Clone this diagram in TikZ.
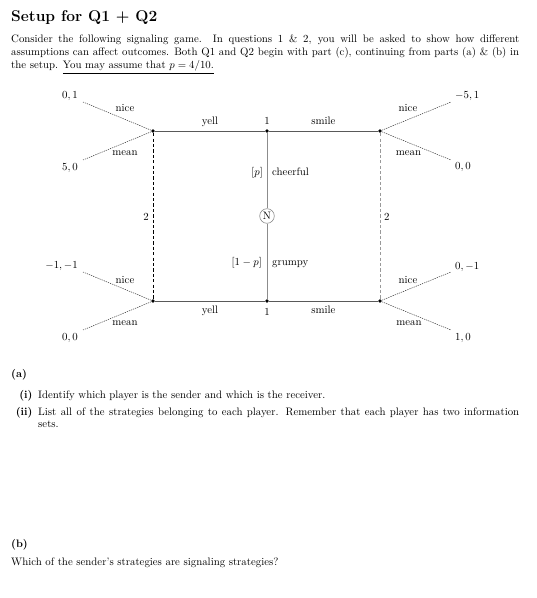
\documentclass[tikz,border=0pt]{standalone}
\usepackage{amsmath}
\begin{document}
\begin{tikzpicture}[x=0.9247pt,y=-0.9247pt,
  dot/.style={circle,fill=black,inner sep=0pt,minimum size=3.6pt},
  lab/.style={inner sep=0pt},
  move/.style={draw=black!65, line width=0.55pt},
  chance/.style={draw=black!45, line width=0.5pt},
  payline/.style={draw=black!80, line width=0.45pt, dash pattern=on 1.2pt off 0.9pt},
  infoL/.style={draw=black, line width=0.6pt, dash pattern=on 3pt off 2pt},
  infoR/.style={draw=black!40, line width=0.6pt, dash pattern=on 3pt off 2pt},
  chancenode/.style={circle, draw=black!50, line width=0.5pt, inner sep=0pt, minimum size=13.5pt},
]
\useasboundingbox (0,0) rectangle (536,598);

% ---------- text ----------
\node[lab, anchor=base west] (title) at (11,22) {\Large\bfseries Setup for Q1 + Q2};
\node[lab, anchor=base west] (intro) at (11,43) {\parbox[t]{469.75pt}{\hyphenpenalty=10000 Consider the following signaling game.  In questions 1 \& 2, you will be asked to show how different\linebreak assumptions can affect outcomes. Both Q1 and Q2 begin with part (c), continuing from parts (a) \& (b) in\linebreak the setup. \underline{You may assume that $p=4/10$.}}};

\node[lab, anchor=base west] (parta) at (11,377) {\bfseries (a)};
\node[lab, anchor=base east] (li) at (32.6,398) {\bfseries (i)};
\node[lab, anchor=base west] (ti) at (38,398) {\parbox[t]{444.75pt}{Identify which player is the sender and which is the receiver.}};
\node[lab, anchor=base east] (lii) at (32.6,415) {\bfseries (ii)};
\node[lab, anchor=base west] (tii) at (38,415) {\parbox[t]{444.75pt}{List all of the strategies belonging to each player. Remember that each player has two information sets.}};

\node[lab, anchor=base west] (partb) at (11,547) {\bfseries (b)};
\node[lab, anchor=base west] (qb) at (11,565) {Which of the sender's strategies are signaling strategies?};

% ---------- tree nodes ----------
\node[dot] (L1) at (153,131) {};
\node[dot] (M1) at (267,131) {};
\node[dot] (R1) at (380,131) {};
\node[chancenode] (N) at (267,216) {N};
\node[dot] (L2) at (153,301) {};
\node[dot] (M2) at (267,301) {};
\node[dot] (R2) at (380,301) {};

\coordinate (pl1) at (83,102);
\coordinate (pl2) at (83,160);
\coordinate (pl3) at (83,272);
\coordinate (pl4) at (83,330);
\coordinate (pr1) at (451,102);
\coordinate (pr2) at (451,160);
\coordinate (pr3) at (451,272);
\coordinate (pr4) at (451,330);

% ---------- connectors ----------
\draw[move] (L1) -- (M1);
\draw[move] (M1) -- (R1);
\draw[move] (L2) -- (M2);
\draw[move] (M2) -- (R2);
\draw[chance] (M1) -- (N);
\draw[chance] (N) -- (M2);
\draw[infoL] (L1) -- (L2);
\draw[infoR] (R1) -- (R2);
\draw[payline] (L1) -- (pl1);
\draw[payline] (L1) -- (pl2);
\draw[payline] (L2) -- (pl3);
\draw[payline] (L2) -- (pl4);
\draw[payline] (R1) -- (pr1);
\draw[payline] (R1) -- (pr2);
\draw[payline] (R2) -- (pr3);
\draw[payline] (R2) -- (pr4);

% ---------- payoffs ----------
\node[lab, anchor=base east] (u1) at (78,99) {$0,1$};
\node[lab, anchor=base east] (u2) at (78,170.5) {$5,0$};
\node[lab, anchor=base east] (u3) at (78,268) {$-1,-1$};
\node[lab, anchor=base east] (u4) at (78,340) {$0,0$};
\node[lab, anchor=base west] (v1) at (455,99) {$-5,1$};
\node[lab, anchor=base west] (v2) at (455,170) {$0,0$};
\node[lab, anchor=base west] (v3) at (455,269) {$0,-1$};
\node[lab, anchor=base west] (v4) at (455,340) {$1,0$};

% ---------- labels ----------
\node[lab, anchor=base] (a1) at (125,112) {nice};
\node[lab, anchor=base] (a2) at (125,155) {mean};
\node[lab, anchor=base] (a3) at (125,283) {nice};
\node[lab, anchor=base] (a4) at (125,325) {mean};
\node[lab, anchor=base] (b1) at (408,112) {nice};
\node[lab, anchor=base] (b2) at (408.5,155) {mean};
\node[lab, anchor=base] (b3) at (408,283) {nice};
\node[lab, anchor=base] (b4) at (409,325) {mean};
\node[lab, anchor=base] (y1) at (210,125) {yell};
\node[lab, anchor=base] (s1) at (323.5,125) {smile};
\node[lab, anchor=base] (y2) at (210,313) {yell};
\node[lab, anchor=base] (s2) at (323.5,313) {smile};
\node[lab, anchor=base] (p1) at (267,125) {1};
\node[lab, anchor=base] (p2) at (267,315) {1};
\node[lab, anchor=base east] (pp) at (263,175) {$[p]$};
\node[lab, anchor=base west] (ch) at (272,175) {cheerful};
\node[lab, anchor=base east] (pq) at (262,265) {$[1-p]$};
\node[lab, anchor=base west] (gr) at (272,265) {grumpy};
\node[lab, anchor=base east] (r1) at (149,220) {2};
\node[lab, anchor=base west] (r2) at (384,220) {2};
\end{tikzpicture}
\end{document}
